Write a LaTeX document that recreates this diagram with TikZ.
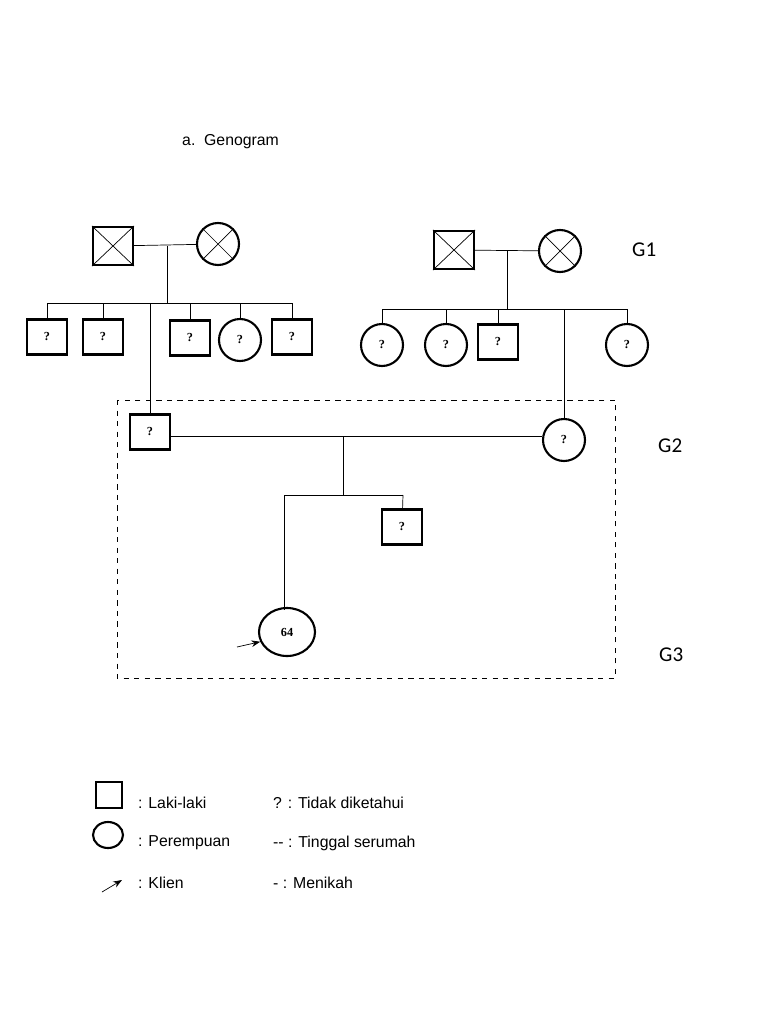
\documentclass[tikz,border=0pt]{standalone}
\usepackage{fontspec}
\setmainfont{Liberation Sans}
\newfontfamily\califont{Carlito}
\newfontfamily\timesfont{Liberation Serif}
\usetikzlibrary{positioning,arrows.meta,calc,shapes.geometric}
\begin{document}
\begin{tikzpicture}[x=0.02cm,y=-0.02cm,
    male/.style={draw, line width=1.2pt, minimum width=0.8cm, minimum height=0.7cm, inner sep=0pt, font=\bfseries\timesfont\scriptsize},
    female/.style={draw, line width=1.2pt, circle, minimum size=0.84cm, inner sep=0pt, font=\bfseries\timesfont\scriptsize},
    dead/.style={minimum width=0.8cm, minimum height=0.76cm},
    gen/.style={font=\califont\large, anchor=west},
    legend/.style={font=\small, anchor=west}]
    \useasboundingbox (0,0) rectangle (768,1024);

    % title
    \node[legend] (title) at (176,142) {a.\ \ Genogram};

    % G1 left couple
    \node[male, dead] (gfl) at (113,246) {};
    \node[female] (gml) at (218,244) {};
    \draw (gfl.north west) -- (gfl.south east) (gfl.north east) -- (gfl.south west);
    \draw (gml.45) -- (gml.225) (gml.135) -- (gml.315);
    \draw (gfl) -- (gml);
    \coordinate (ml) at (167,246);
    \coordinate (sl) at (167,303);
    \draw (ml) -- (sl);
    \draw (47,303) -- (292,303);

    % G1 left children
    \node[male] (cl1) at (47,337) {?};
    \node[male] (cl2) at (103,337) {?};
    \node[male] (cl3) at (190,338) {?};
    \node[female] (cl4) at (240,340) {?};
    \node[male] (cl5) at (292,337) {?};
    \foreach \c/\x in {cl1/47, cl2/103, cl3/190, cl4/240, cl5/292}
        \draw (\x,303) -- (\c);

    % G1 right couple
    \node[male, dead] (gfr) at (454,250) {};
    \node[female] (gmr) at (560,251) {};
    \draw (gfr.north west) -- (gfr.south east) (gfr.north east) -- (gfr.south west);
    \draw (gmr.45) -- (gmr.225) (gmr.135) -- (gmr.315);
    \draw (gfr) -- (gmr);
    \draw (507,251) -- (507,309);
    \draw (382,309) -- (627,309);

    % G1 right children
    \node[female] (cr1) at (382,345) {?};
    \node[female] (cr2) at (446,345) {?};
    \node[male] (cr3) at (498,342) {?};
    \node[female] (cr5) at (627,345) {?};
    \foreach \c/\x in {cr1/382, cr2/446, cr3/498, cr5/627}
        \draw (\x,309) -- (\c);

    % G2
    \node[male] (fa) at (150,432) {?};
    \node[female] (mo) at (564,440) {?};
    \draw (150,303) -- (fa);
    \draw (564,309) -- (mo);
    \draw (fa.east |- 0,436) -- (mo.west |- 0,436);
    \draw (343,436) -- (343,495);
    \draw (284,495) -- (403,495);

    % G3
    \node[male] (sib) at (402,527) {?};
    \draw (403,495) -- (sib);
    \node[draw, line width=1.2pt, ellipse, minimum width=1.12cm, minimum height=0.96cm, inner sep=0pt,
          font=\bfseries\timesfont\scriptsize] (klien) at (287,632) {64};
    \draw (284,495) -- (284,610);
    \coordinate (ka) at (237,647);
    \draw[-{Stealth[length=5pt]}] (ka) -- (klien.200);

    % household
    \draw[dashed] (117,400) rectangle (615,678);

    % generations
    \node[gen] (g1) at (626,250) {G1};
    \node[gen] (g2) at (652,446) {G2};
    \node[gen] (g3) at (653,655) {G3};

    % legend
    \node[draw, line width=1.2pt, minimum size=0.52cm, inner sep=0pt] (lm) at (109,795) {};
    \node[draw, line width=1.2pt, ellipse, minimum width=0.6cm, minimum height=0.52cm, inner sep=0pt] (lf) at (108,835) {};
    \coordinate (la1) at (102,892);
    \coordinate (la2) at (122,880);
    \draw[-{Stealth[length=5pt]}] (la1) -- (la2);
    \node[legend] (t1) at (132,803) {: Laki-laki};
    \node[legend] (t2) at (132,843) {: Perempuan};
    \node[legend] (t3) at (132,883) {: Klien};
    \node[legend] (t4) at (267,803) {? : Tidak diketahui};
    \node[legend] (t5) at (267,843) {{-}{-} : Tinggal serumah};
    \node[legend] (t6) at (267,883) {- : Menikah};
\end{tikzpicture}
\end{document}
